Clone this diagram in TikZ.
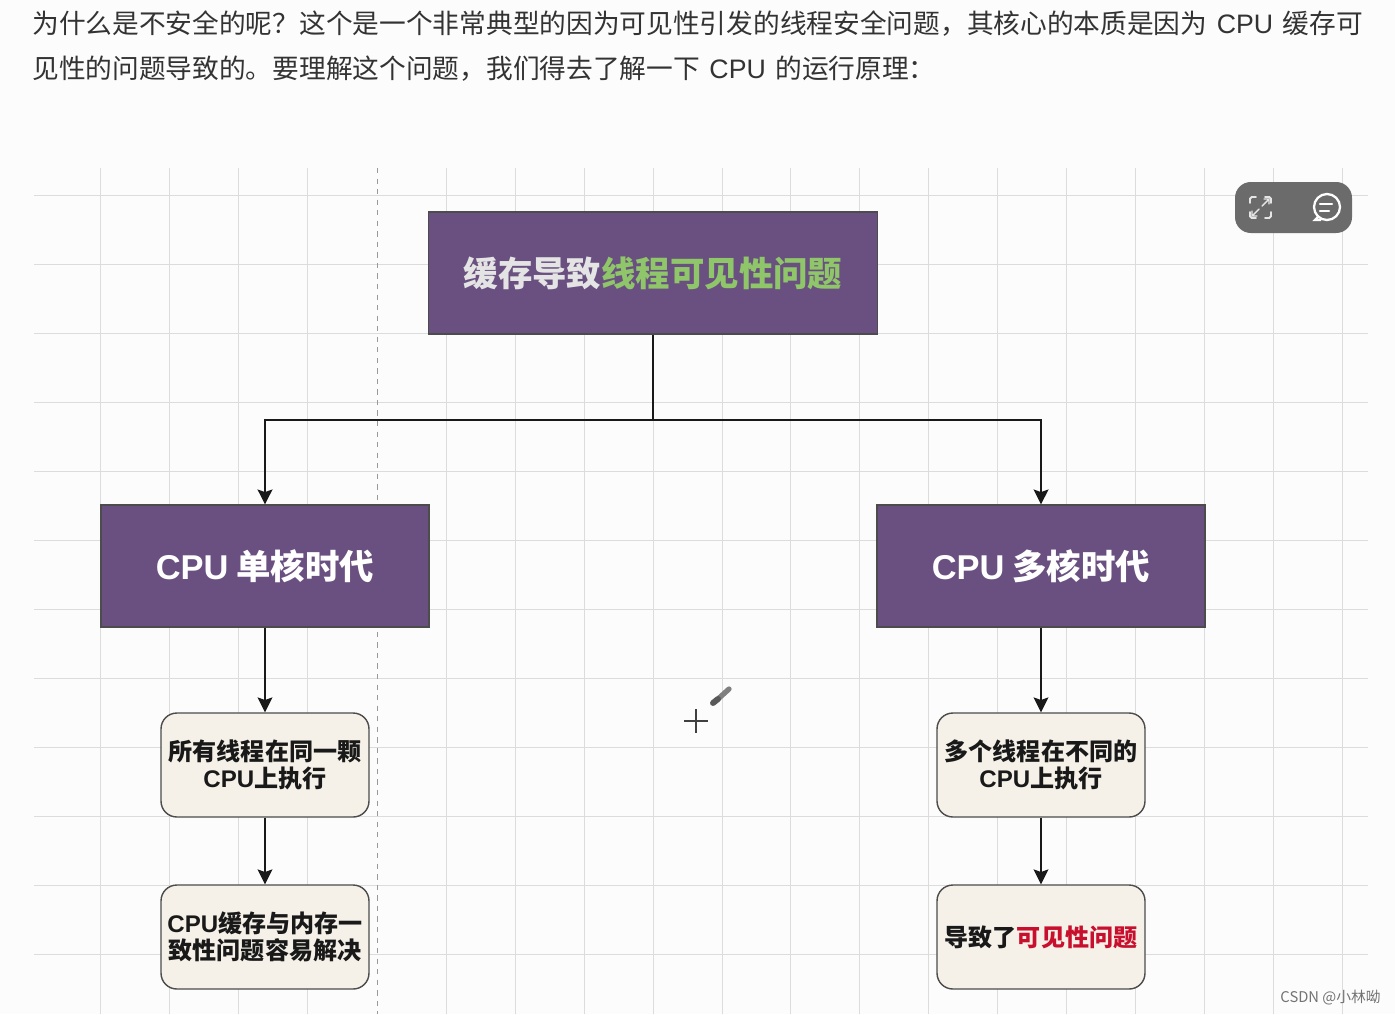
\documentclass[tikz,border=0pt]{standalone}
\usepackage{fontspec}
\usepackage{xcolor}
\setmainfont{Noto Sans CJK SC}
\newfontfamily\latinfont{Liberation Sans}
\newcommand{\cpuname}{{\latinfont CPU}}
\newcommand{\cpubody}{\hspace{2pt}\cpuname{}\hspace{2pt}}
\newcommand{\fwask}{\char"FF1F\relax}
\newcommand{\fwcomma}{\char"FF0C\relax}
\newcommand{\fwcolon}{\char"FF1A\relax}
\usetikzlibrary{arrows.meta}
\definecolor{pagebg}{HTML}{FCFCFC}
\definecolor{gridgray}{HTML}{DCDCDC}
\definecolor{boxpurple}{HTML}{6A5080}
\definecolor{boxcream}{HTML}{F5F1E8}
\definecolor{titlegreen}{HTML}{8FC66A}
\definecolor{titlepale}{HTML}{E4E4E4}
\definecolor{alertred}{HTML}{C8102E}
\definecolor{toolgray}{HTML}{6B6B6B}

\begin{document}
\begin{tikzpicture}
  [x=.02cm,y=-.02cm,>={Stealth[length=8.5pt,width=8.5pt,inset=1.5pt]},
   gridline/.style={gridgray,line width=.5pt},
   titlebox/.style={rectangle,draw=black!70,fill=boxpurple,line width=.7pt,text=white,
     minimum height=2.44cm,inner sep=0pt,font=\bfseries\fontsize{19.6pt}{23pt}\selectfont},
   stepbox/.style={rectangle,rounded corners=9pt,draw=black!70,fill=boxcream,line width=.8pt,
     minimum width=4.16cm,minimum height=2.08cm,inner sep=0pt,align=center,text=black!90,
     font=\bfseries\fontsize{13.7pt}{15.6pt}\selectfont},
   bodytext/.style={anchor=west,inner sep=0pt,text=black!80,font=\fontsize{15.2pt}{18pt}\selectfont},
   link/.style={black!90,line width=.8pt}]
  \useasboundingbox (0,0) rectangle (1395,1014);
  \fill[pagebg] (0,0) rectangle (1395,1014);

  \node[bodytext] (lineone) at (32,24) {为什么是不安全的呢\fwask{}这个是一个非常典型的因为可见性引发的线程安全问题\fwcomma{}其核心的本质是因为 \cpubody{} 缓存可};
  \node[bodytext] (linetwo) at (32,69) {见性的问题导致的。要理解这个问题\fwcomma{}我们得去了解一下 \cpubody{} 的运行原理\fwcolon{}};

  \foreach \gy in {195,264,333,402,471,540,609,678,747,816,885,954}
    \draw[gridline] (34,\gy) -- (1368,\gy);
  \foreach \gx in {100,169,238,307,446,515,584,653,722,790,859,928,997,1066,1135,1204,1273,1342}
    \draw[gridline] (\gx,168) -- (\gx,1014);
  \draw[gray!80,line width=.5pt,dashed] (377,168) -- (377,1014);

  \node[titlebox,minimum width=8.98cm] (root) at (653,273)
    {\textcolor{titlepale}{缓存导致}\textcolor{titlegreen}{线程可见性问题}};
  \node[titlebox,minimum width=6.56cm] (single) at (265,566) {\cpuname{} 单核时代};
  \node[titlebox,minimum width=6.56cm] (multi) at (1041,566) {\cpuname{} 多核时代};

  \node[stepbox] (samecpu) at (265,765) {所有线程在同一颗\\\cpuname{}上执行};
  \node[stepbox] (easy) at (265,937) {\cpuname{}缓存与内存一\\致性问题容易解决};
  \node[stepbox] (diffcpu) at (1041,765) {多个线程在不同的\\\cpuname{}上执行};
  \node[stepbox] (problem) at (1041,937) {导致了\textcolor{alertred}{可见性问题}};

  \coordinate (fork) at (653,420);
  \draw[link] (root) -- (fork);
  \draw[link,->] (fork) -| (single);
  \draw[link,->] (fork) -| (multi);
  \foreach \from/\to in {single/samecpu,samecpu/easy,multi/diffcpu,diffcpu/problem}
    \draw[link,->] (\from) -- (\to);

  % toolbar
  \fill[toolgray,rounded corners=9pt] (1235,182) rectangle (1352,233);
  \draw[white!90!black,line width=1.1pt,line cap=round,rounded corners=1pt]
    (1250,203) -- (1250,197) -- (1256,197) (1265,197) -- (1271,197) -- (1271,203)
    (1271,212) -- (1271,218) -- (1265,218) (1256,218) -- (1250,218) -- (1250,212);
  \draw[white!90!black,line width=.8pt,line cap=round]
    (1262,206) -- (1269,199) (1269,199) -- (1264,199) (1269,199) -- (1269,204)
    (1259,209) -- (1252,216) (1252,216) -- (1257,216) (1252,216) -- (1252,211);
  \draw[white,line width=1.3pt] (1327,207) circle (13);
  \draw[white,line width=1.3pt] (1319,216) -- (1315,220) -- (1321,220);
  \draw[white,line width=1.3pt,line cap=round]
    (1320,204) -- (1332,204) (1320,211) -- (1329,211);

  % cursor
  \draw[black!75,line width=.8pt] (684,721) -- (708,721) (696,709) -- (696,733);
  \draw[gray,line width=3pt,line cap=round] (718,699) -- (729,689);
  \draw[black!65,line width=3.4pt,line cap=round] (713,703) -- (718,699);

  \node[anchor=east,inner sep=0pt,text=black!55,font=\fontsize{8.4pt}{10pt}\selectfont] (mark) at (1381,998) {CSDN @小林呦};
\end{tikzpicture}
\end{document}
